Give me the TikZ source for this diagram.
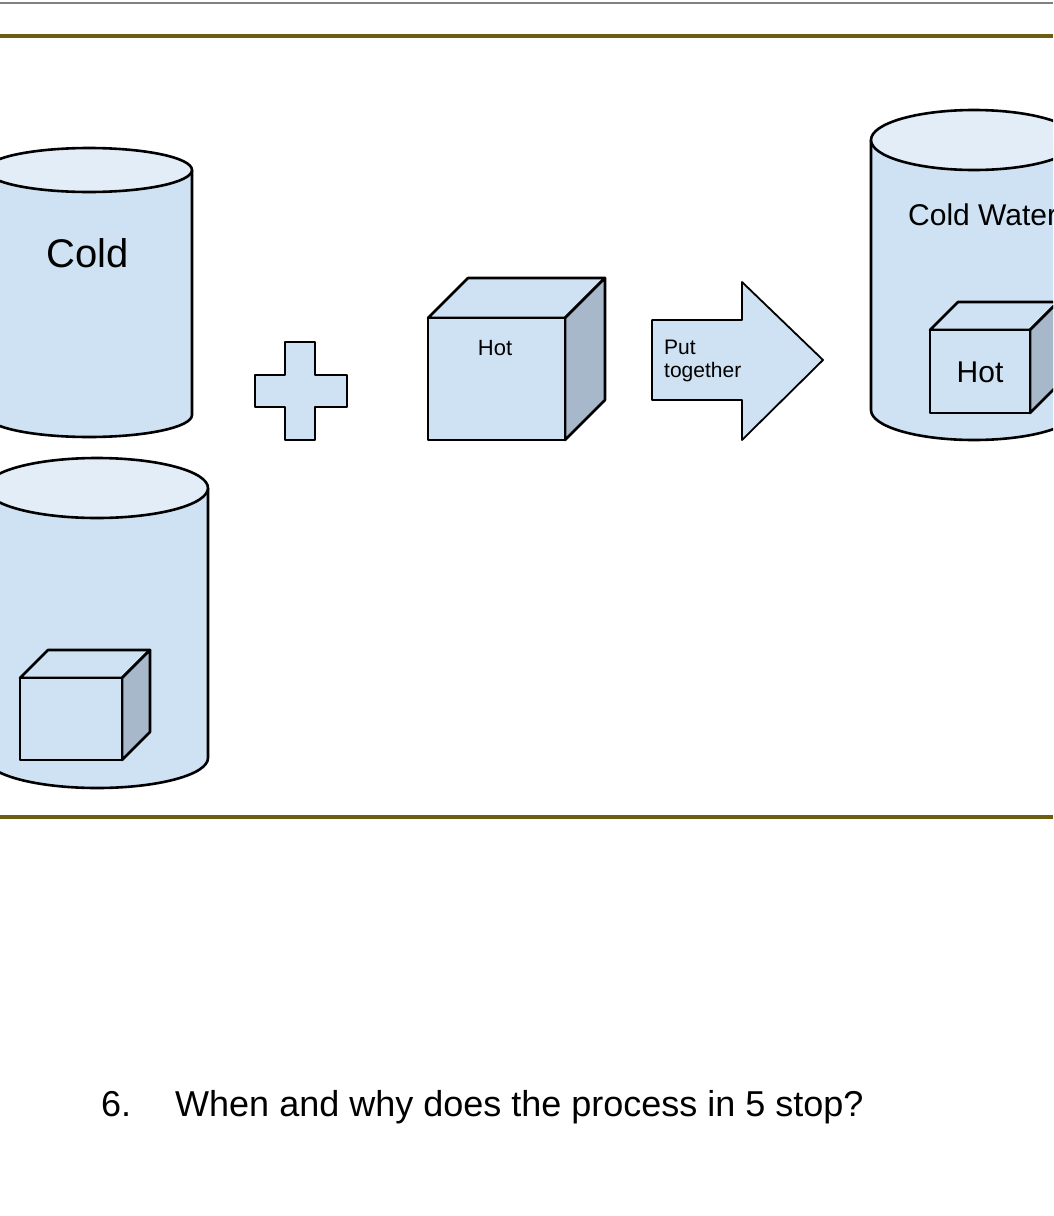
\documentclass[tikz,border=0pt]{standalone}
\usepackage{fontspec}
\setmainfont{Liberation Sans}
\usetikzlibrary{calc}
\definecolor{water}{HTML}{CFE2F3}
\definecolor{watertop}{HTML}{E3EDF8}
\definecolor{cubeside}{HTML}{A7B8CA}
\definecolor{rule}{HTML}{6B5E12}
\tikzset{
	outl/.style={draw=black,line width=2.6pt,line join=round},
	lbl/.style={inner sep=0pt,font=\fontsize{#1}{#1}\selectfont},
}
% tank: left x, right x, top y, bottom y, half height of ellipse
\newcommand{\tank}[5]{%
	\filldraw[outl,fill=water] (#1,#3) -- (#1,#4) arc[start angle=180,end angle=0,x radius={(#2-#1)/2},y radius=#5] -- (#2,#3);
	\filldraw[outl,fill=watertop] ({(#1+#2)/2},#3) ellipse[x radius={(#2-#1)/2},y radius=#5];
}
% box: left x, top y, size x, size y, depth
\newcommand{\hotbox}[5]{%
	\filldraw[outl,fill=water] (#1,#2) -- ++(#5,-#5) -- ++(#3,0) -- ++(-#5,#5) -- cycle;
	\filldraw[outl,fill=cubeside] (#1+#3,#2) -- ++(#5,-#5) -- ++(0,#4) -- ++(-#5,#5) -- cycle;
	\filldraw[outl,fill=water] (#1,#2) rectangle ++(#3,#4);
}
\begin{document}
\begin{tikzpicture}[x=1pt,y=-1pt]
	\useasboundingbox (0,0) rectangle (1053,1216);
	\clip (0,0) rectangle (1053,1216);
	\fill[white] (0,0) rectangle (1053,1216);
	
	%rules
	\draw[gray,line width=2pt] (0,3) -- (1053,3);
	\draw[rule,line width=4.5pt] (0,36) -- (1053,36);
	\draw[rule,line width=4.5pt] (0,817) -- (1053,817);
	
	%tanks
	\tank{-14}{192}{170}{415}{22}
	\node[lbl=40] (cold) at (88,253) {Cold};
	\tank{-14}{208}{488}{758}{30}
	\hotbox{20}{678}{102}{82}{28}
	\tank{871}{1077}{140}{410}{30}
	\node[lbl=30,anchor=west] (coldwater) at (908,215) {Cold Water};
	\hotbox{930}{330}{100}{83}{28}
	\node[lbl=30] (hotin) at (980,372) {Hot};
	
	%plus
	\filldraw[outl,fill=water] (285,342) -- (315,342) -- (315,375) -- (347,375) -- (347,407) -- (315,407) -- (315,440) -- (285,440) -- (285,407) -- (255,407) -- (255,375) -- (285,375) -- cycle;
	
	%hot cube
	\hotbox{428}{318}{137}{122}{40}
	\node[lbl=22] (hot) at (495,348) {Hot};
	
	%arrow
	\filldraw[outl,line width=1.8pt,fill=water] (652,320) -- (742,320) -- (742,282) -- (823,360) -- (742,440) -- (742,400) -- (652,400) -- cycle;
	\node[lbl=21,anchor=west,align=left] (put) at (664,361) {Put\\[2pt]together};
	
	\node[lbl=36,anchor=west] (question) at (101,1107) {6.\hspace{44pt}When and why does the process in 5 stop?};
\end{tikzpicture}
\end{document}
